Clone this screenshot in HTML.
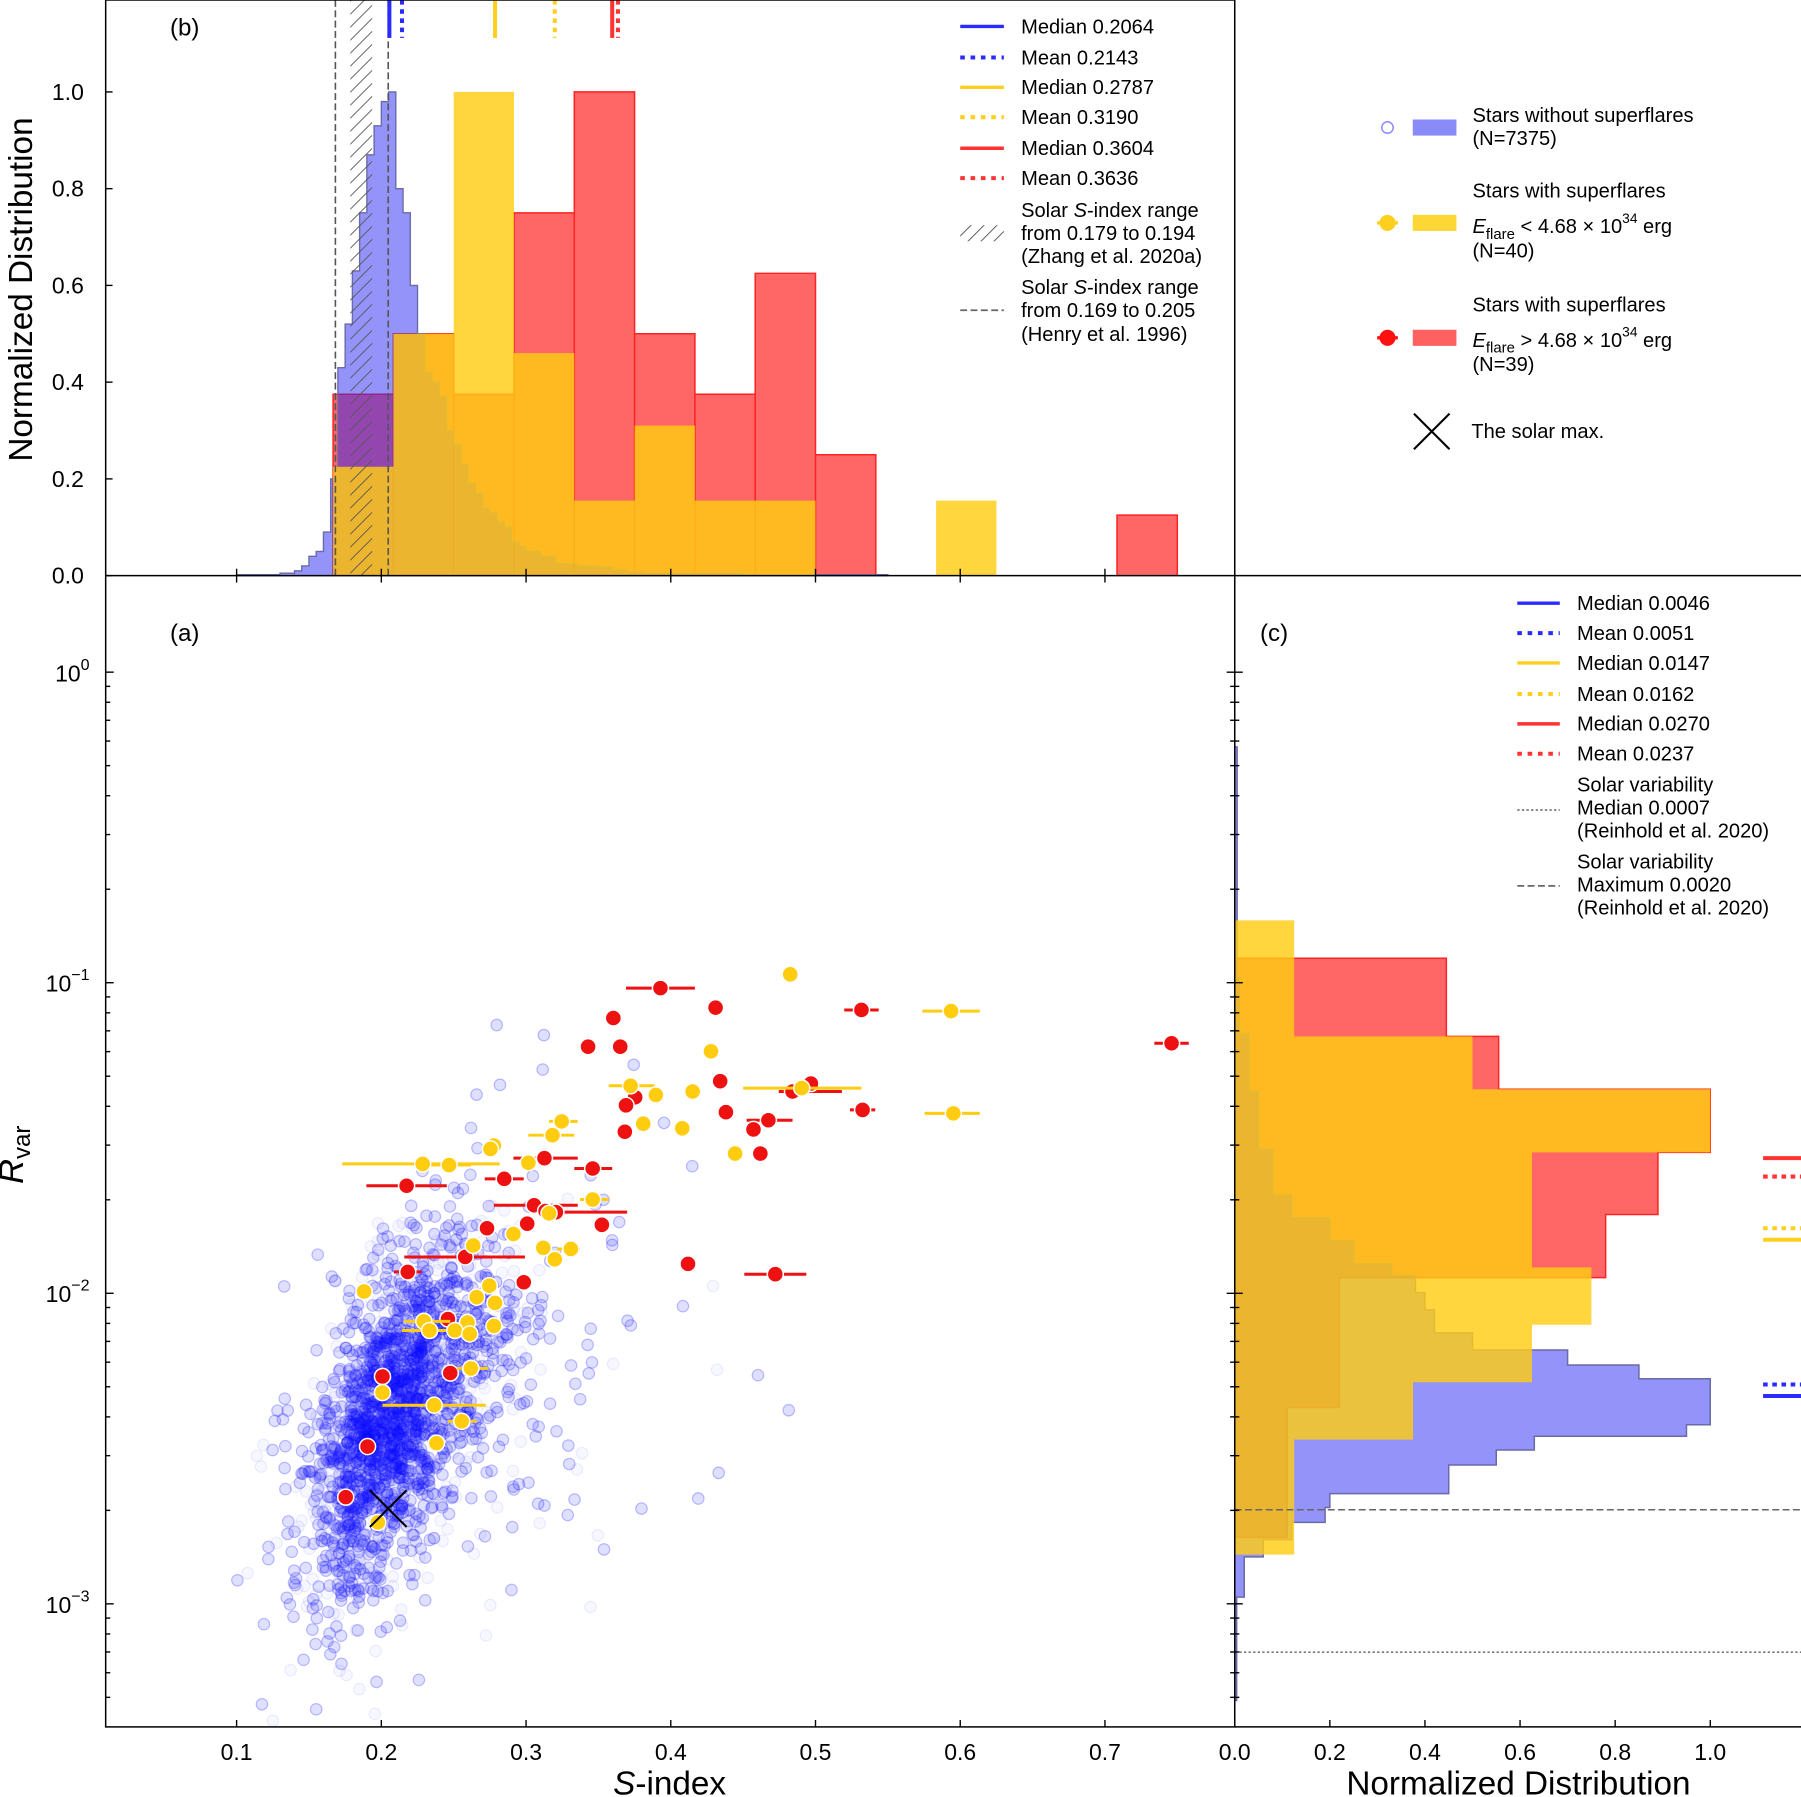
<!DOCTYPE html>
<html><head><meta charset="utf-8"><style>
html,body{margin:0;padding:0;background:#fff}
svg{display:block}
text{font-family:"Liberation Sans",Arial,sans-serif;fill:#000}
</style></head><body>
<svg id="s" width="1801" height="1797" viewBox="0 0 1568 1564" preserveAspectRatio="none" xmlns="http://www.w3.org/2000/svg">
<defs>
<pattern id="hatch" width="8" height="8" patternUnits="userSpaceOnUse" patternTransform="rotate(45)">
<line x1="0" y1="0" x2="0" y2="8" stroke="#555" stroke-width="1.6"/></pattern>
<clipPath id="ca"><rect x="92" y="501" width="983" height="1002"/></clipPath>
</defs>
<rect width="1568" height="1564" fill="#fff"/>
<g id="scat" clip-path="url(#ca)"></g>
<g id="hist"></g>
<g id="pts"></g>
<g fill="none" stroke="#000" stroke-width="1.3">
<rect x="92" y="0" width="983" height="1503"/>
<line x1="92" y1="501" x2="1568" y2="501"/>
<line x1="1075" y1="0" x2="1075" y2="1503"/>
<line x1="1075" y1="1503" x2="1568" y2="1503"/>
</g>
<g id="ticks" stroke="#000" stroke-width="1.2"></g>
<g id="labels" font-size="20"></g>
<text x="28" y="252" font-size="29" transform="rotate(-90 28 252)" text-anchor="middle">Normalized Distribution</text>
<text x="20" y="1005" font-size="30" transform="rotate(-90 20 1005)" text-anchor="middle"><tspan font-style="italic">R</tspan><tspan font-size="21" dy="6">var</tspan></text>
<text x="583" y="1562" font-size="29" text-anchor="middle"><tspan font-style="italic">S</tspan>-index</text>
<text x="1322" y="1562" font-size="29" text-anchor="middle">Normalized Distribution</text>
<text x="148" y="31" font-size="21">(b)</text>
<text x="148" y="558" font-size="21">(a)</text>
<text x="1097" y="558" font-size="21">(c)</text>
<g font-size="17.5">
<line x1="836" x2="874" y1="23" y2="23" stroke="#2b2bff" stroke-width="3"/><text x="889" y="29">Median 0.2064</text>
<line x1="836" x2="874" y1="50" y2="50" stroke="#2b2bff" stroke-width="3.5" stroke-dasharray="4,5"/><text x="889" y="56">Mean 0.2143</text>
<line x1="836" x2="874" y1="76" y2="76" stroke="#ffcf1f" stroke-width="3"/><text x="889" y="82">Median 0.2787</text>
<line x1="836" x2="874" y1="102" y2="102" stroke="#ffcf1f" stroke-width="3.5" stroke-dasharray="4,5"/><text x="889" y="108">Mean 0.3190</text>
<line x1="836" x2="874" y1="129" y2="129" stroke="#f33" stroke-width="3"/><text x="889" y="135">Median 0.3604</text>
<line x1="836" x2="874" y1="155" y2="155" stroke="#f33" stroke-width="3.5" stroke-dasharray="4,5"/><text x="889" y="161">Mean 0.3636</text>
<rect x="836" y="196" width="38" height="14" fill="url(#hatch)"/>
<text x="889" y="189">Solar <tspan font-style="italic">S</tspan>-index range</text><text x="889" y="209">from 0.179 to 0.194</text><text x="889" y="229">(Zhang et al. 2020a)</text>
<line x1="836" x2="874" y1="270" y2="270" stroke="#666" stroke-width="1.5" stroke-dasharray="6,3"/>
<text x="889" y="256">Solar <tspan font-style="italic">S</tspan>-index range</text><text x="889" y="276">from 0.169 to 0.205</text><text x="889" y="297">(Henry et al. 1996)</text>
</g>
<g font-size="17.5">
<line x1="1321" x2="1358" y1="525" y2="525" stroke="#2b2bff" stroke-width="3"/><text x="1373" y="531">Median 0.0046</text>
<line x1="1321" x2="1358" y1="551" y2="551" stroke="#2b2bff" stroke-width="3.5" stroke-dasharray="4,5"/><text x="1373" y="557">Mean 0.0051</text>
<line x1="1321" x2="1358" y1="577" y2="577" stroke="#ffcf1f" stroke-width="3"/><text x="1373" y="583">Median 0.0147</text>
<line x1="1321" x2="1358" y1="604" y2="604" stroke="#ffcf1f" stroke-width="3.5" stroke-dasharray="4,5"/><text x="1373" y="610">Mean 0.0162</text>
<line x1="1321" x2="1358" y1="630" y2="630" stroke="#f33" stroke-width="3"/><text x="1373" y="636">Median 0.0270</text>
<line x1="1321" x2="1358" y1="656" y2="656" stroke="#f33" stroke-width="3.5" stroke-dasharray="4,5"/><text x="1373" y="662">Mean 0.0237</text>
<line x1="1321" x2="1358" y1="705" y2="705" stroke="#777" stroke-width="1.5" stroke-dasharray="2,2"/>
<text x="1373" y="689">Solar variability</text><text x="1373" y="709">Median 0.0007</text><text x="1373" y="729">(Reinhold et al. 2020)</text>
<line x1="1321" x2="1358" y1="771" y2="771" stroke="#666" stroke-width="1.5" stroke-dasharray="6,3"/>
<text x="1373" y="756">Solar variability</text><text x="1373" y="776">Maximum 0.0020</text><text x="1373" y="796">(Reinhold et al. 2020)</text>
</g>
<g font-size="17.5">
<circle cx="1208" cy="111" r="5" fill="none" stroke="#8c8cff" stroke-width="1.3"/>
<rect x="1230" y="104" width="38" height="14" fill="#8a8af8"/>
<text x="1282" y="106">Stars without superflares</text><text x="1282" y="126">(N=7375)</text>
<line x1="1199" x2="1217" y1="194" y2="194" stroke="#ffcf1f" stroke-width="3"/><circle cx="1208" cy="194" r="7" fill="#ffcf1f"/>
<rect x="1230" y="187" width="38" height="14" fill="#fdd835"/>
<text x="1282" y="172">Stars with superflares</text>
<text x="1282" y="203"><tspan font-style="italic">E</tspan><tspan font-size="13" dy="5">flare</tspan><tspan dy="-5"> &lt; 4.68 × 10</tspan><tspan font-size="12" dy="-9">34</tspan><tspan dy="9"> erg</tspan></text>
<text x="1282" y="224">(N=40)</text>
<line x1="1199" x2="1217" y1="294" y2="294" stroke="#f11" stroke-width="3"/><circle cx="1208" cy="294" r="7" fill="#f11"/>
<rect x="1230" y="287" width="38" height="14" fill="#ff6060"/>
<text x="1282" y="271">Stars with superflares</text>
<text x="1282" y="302"><tspan font-style="italic">E</tspan><tspan font-size="13" dy="5">flare</tspan><tspan dy="-5"> &gt; 4.68 × 10</tspan><tspan font-size="12" dy="-9">34</tspan><tspan dy="9"> erg</tspan></text>
<text x="1282" y="323">(N=39)</text>
<path d="M1231 360 L1262 391 M1262 360 L1231 391" stroke="#000" stroke-width="1.8"/>
<text x="1281" y="381">The solar max.</text>
</g>
</svg>
<script>
var NS="http://www.w3.org/2000/svg";
function el(p,t,a){var e=document.createElementNS(NS,t);for(var k in a)e.setAttribute(k,a[k]);p.appendChild(e);return e;}
var G=id=>document.getElementById(id);
var sx=s=>206+(s-0.1)*1260, hy=v=>501-v*421, hx=v=>1075+v*414;
var seed=987654;function rnd(){seed=(seed*1103515245+12345)%2147483648;return seed/2147483648;}
function gauss(){var u=rnd()||1e-9,v=rnd();return Math.sqrt(-2*Math.log(u))*Math.cos(6.2832*v);}
var sc=G("scat");var h="";
for(var i=0;i<7400;i++){var a=gauss(),b=gauss();var out=rnd()<0.08;
var ls=Math.log(0.21)+(out?0.3:0.15)*a+(rnd()<0.05?0.3*Math.abs(gauss()):0);var s=Math.exp(ls);
var lr=-2.38+(out?0.5:0.27)*(0.55*a+0.83*b);
var x=sx(s),y=585-lr*270.3;h+='<circle cx="'+x.toFixed(1)+'" cy="'+y.toFixed(1)+'" r="5"/>';}
var gg=el(sc,"g",{fill:"#0000ff","fill-opacity":0.03,stroke:"#2020ff","stroke-opacity":0.08,"stroke-width":1});gg.innerHTML=h;
var H=G("hist");
function barsTop(bins,fill,stroke){var d="";bins.forEach(b=>{d+="M"+b[0]+" 501V"+hy(b[2])+"H"+b[1]+"V501Z";});el(H,"path",{d:d,fill:fill,stroke:"none"});
if(stroke){var p="";bins.forEach(b=>{p+="M"+b[0]+" 501V"+hy(b[2])+"H"+b[1]+"V501";});el(H,"path",{d:p,fill:"none",stroke:stroke,"stroke-width":1.3});}}
var w=52.5;function bx(i){return 290+i*w;}
var red=[[0,.375],[1,.5],[2,.375],[3,.75],[4,1],[5,.5],[6,.375],[7,.625],[8,.25],[13,.125]].map(a=>[bx(a[0]),bx(a[0]+1),a[1]]);
var yel=[[0,.225],[1,.5],[2,1],[3,.46],[4,.155],[5,.31],[6,.155],[7,.155],[10,.155]].map(a=>[bx(a[0]),bx(a[0]+1),a[1]]);
barsTop(red,"rgba(255,30,30,0.68)","#f22");
var bv=[[.10,.002],[.13,.005],[.14,.01],[.145,.02],[.15,.04],[.155,.05],[.16,.09],[.165,.2],[.17,.43],[.175,.52],[.18,.63],[.185,.75],[.19,.87],[.195,.93],[.2,.98],[.205,1.0],[.21,.8],[.215,.75],[.22,.6],[.225,.5],[.23,.42],[.235,.4],[.24,.37],[.245,.3],[.25,.27],[.255,.23],[.26,.19],[.265,.17],[.27,.14],[.275,.13],[.28,.11],[.285,.1],[.29,.07],[.295,.06],[.3,.05],[.31,.04],[.32,.025],[.335,.02],[.35,.018],[.36,.012],[.37,.008],[.38,.005],[.45,.002],[.55,0]];
var bd="M"+sx(.1)+" 501";bv.forEach((v,i)=>{if(i<bv.length-1){bd+="L"+sx(v[0])+" "+hy(v[1])+"L"+sx(bv[i+1][0])+" "+hy(v[1]);}});bd+="L"+sx(.55)+" 501Z";
el(H,"path",{d:bd,fill:"rgba(40,40,245,0.5)",stroke:"#6a6aa8","stroke-width":1.2});
barsTop(yel,"rgba(255,205,20,0.82)",null);
el(H,"rect",{x:305,y:0,width:19,height:501,fill:"url(#hatch)"});
el(H,"line",{x1:292,x2:292,y1:0,y2:501,stroke:"#555","stroke-width":1.4,"stroke-dasharray":"6,3"});
el(H,"line",{x1:338,x2:338,y1:0,y2:501,stroke:"#555","stroke-width":1.4,"stroke-dasharray":"6,3"});
[[339,"#2b2bff",0],[350,"#2b2bff",1],[431,"#ffcf1f",0],[483,"#ffcf1f",1],[533,"#f33",0],[538,"#f33",1]].forEach(m=>{el(H,"line",{x1:m[0],x2:m[0],y1:0,y2:33,stroke:m[1],"stroke-width":3.5,"stroke-dasharray":m[2]?"4,4":"none"});});
function barsR(bins,fill,stroke){var d="";bins.forEach(b=>{d+="M1075 "+b[0]+"H"+hx(b[2])+"V"+b[1]+"H1075Z";});el(H,"path",{d:d,fill:fill,stroke:"none"});
if(stroke){var pts=[];bins.forEach(b=>{pts.push([hx(b[2]),b[0]],[hx(b[2]),b[1]]);});var p="M1075 "+bins[0][0]+pts.map(q=>"L"+q[0]+" "+q[1]).join("")+"L1075 "+bins[bins.length-1][1];
el(H,"path",{d:p,fill:"none",stroke:stroke,"stroke-width":1.3});}}
var rr=[[834,902,.445],[902,948,.555],[948,1003,1],[1003,1057,.89],[1057,1112,.78],[1112,1225,.22],[1225,1338,.11]];
barsR(rr,"rgba(255,30,30,0.68)","#f22");
var br=[[650,850,.005],[850,900,.01],[900,950,.03],[950,1000,.05],[1000,1040,.08],[1040,1060,.12],[1060,1080,.2],[1080,1100,.25],[1100,1110,.33],[1110,1125,.38],[1125,1140,.4],[1140,1160,.42],[1160,1175,.5],[1175,1188,.7],[1188,1200,.85],[1200,1240,1],[1240,1250,.95],[1250,1262,.63],[1262,1275,.55],[1275,1300,.45],[1300,1312,.2],[1312,1325,.19],[1325,1340,.12],[1340,1355,.06],[1355,1390,.02],[1390,1480,.004]];
barsR(br,"rgba(40,40,245,0.5)","#6a6aa8");
var yr=[[801,834,.125],[834,902,.125],[902,948,.5],[948,1003,1],[1003,1103,.625],[1103,1153,.75],[1153,1203,.625],[1203,1253,.375],[1253,1353,.125]];
barsR(yr,"rgba(255,205,20,0.82)",null);
el(H,"line",{x1:1075,x2:1568,y1:1314,y2:1314,stroke:"#666","stroke-width":1.4,"stroke-dasharray":"6,3"});
el(H,"line",{x1:1075,x2:1568,y1:1438,y2:1438,stroke:"#777","stroke-width":1.4,"stroke-dasharray":"2,2"});
[[1008,"#f33",0],[1024,"#f33",1],[1069,"#ffcf1f",1],[1079,"#ffcf1f",0],[1205,"#2b2bff",1],[1215,"#2b2bff",0]].forEach(m=>{el(H,"line",{x1:1535,x2:1568,y1:m[0],y2:m[0],stroke:m[1],"stroke-width":3.5,"stroke-dasharray":m[2]?"4,4":"none"});});
var P=G("pts");
var R=[[575,860,545,605],[534,886],[623,877],[750,879,735,765],[1020,908,1005,1035],[512,911],[540,911],[627,941],[553,955],[545,962],[690,950,678,733],[706,943],[632,968],[751,966,740,762],[544,985],[656,983],[669,975,650,690],[662,1004],[474,1008,447,503],[516,1017,500,533],[354,1032,319,389],[439,1026,422,456],[465,1049,430,503],[484,1055,470,546],[475,1054],[459,1065],[524,1066],[424,1069],[405,1094,352,457],[456,1116],[599,1100],[675,1109,648,702],[355,1107,343,367],[390,1148],[333,1198],[392,1195],[320,1259],[301,1303]];
var Y=[[688,848],[828,880,803,853],[619,915],[549,945,530,570],[571,953],[603,950],[698,947,647,750],[830,969,805,853],[489,976,478,503],[481,988,460,500],[560,978],[594,982],[430,997],[427,1000],[640,1004],[368,1013,298,435],[391,1014,372,410],[460,1012],[516,1044,505,530],[478,1056],[447,1074],[473,1086],[483,1096],[497,1087,485,505],[412,1084],[426,1119],[317,1124],[415,1129],[431,1134],[369,1150,352,392],[407,1151],[374,1158,350,398],[430,1154],[396,1158,382,412],[409,1161],[410,1191,398,425],[333,1212],[378,1223,333,423],[402,1237,390,415],[380,1256],[329,1325]];
function drawPts(arr,c){arr.forEach(p=>{if(p.length>2)el(P,"line",{x1:p[2],x2:p[3],y1:p[1],y2:p[1],stroke:c,"stroke-width":2.6});});
arr.forEach(p=>{el(P,"circle",{cx:p[0],cy:p[1],r:7,fill:c,stroke:"#fff","stroke-width":1.3});});}
drawPts(R,"#ee1111");drawPts(Y,"#ffcc10");
el(P,"path",{d:"M322 1297L354 1329M354 1297L322 1329",stroke:"#000","stroke-width":1.8});
var T=G("ticks"),L=G("labels");
function tx(t,x,y,a){var e=el(L,"text",{x:x,y:y,"text-anchor":a||"middle"});e.textContent=t;return e;}
[0.1,0.2,0.3,0.4,0.5,0.6,0.7].forEach(s=>{var x=sx(s);el(T,"line",{x1:x,x2:x,y1:1503,y2:1497});el(T,"line",{x1:x,x2:x,y1:501,y2:495});el(T,"line",{x1:x,x2:x,y1:501,y2:507});tx(s.toFixed(1),x,1532);});
[0,.2,.4,.6,.8,1].forEach(v=>{var y=hy(v);el(T,"line",{x1:92,x2:98,y1:y,y2:y});tx(v.toFixed(1),73,y+7,"end");});
[0,.2,.4,.6,.8,1].forEach(v=>{var x=hx(v);el(T,"line",{x1:x,x2:x,y1:1503,y2:1497});tx(v.toFixed(1),x,1532);});
for(var e=-4;e<=0;e++){for(var m=1;m<10;m++){var y=585-(e+Math.log10(m))*270.3;if(y<505||y>1500)continue;var len=m==1?7:4;
el(T,"line",{x1:92,x2:92+len,y1:y,y2:y});el(T,"line",{x1:1075-len,x2:1075+len,y1:y,y2:y});}}
[[0,585],[-1,855],[-2,1125],[-3,1396]].forEach(q=>{var t=el(L,"text",{x:78,y:q[1]+8,"text-anchor":"end"});t.innerHTML='10<tspan font-size="14" dy="-10">'+(q[0]==0?"0":"\u2212"+(-q[0]))+'</tspan>';});
</script>
</body></html>
